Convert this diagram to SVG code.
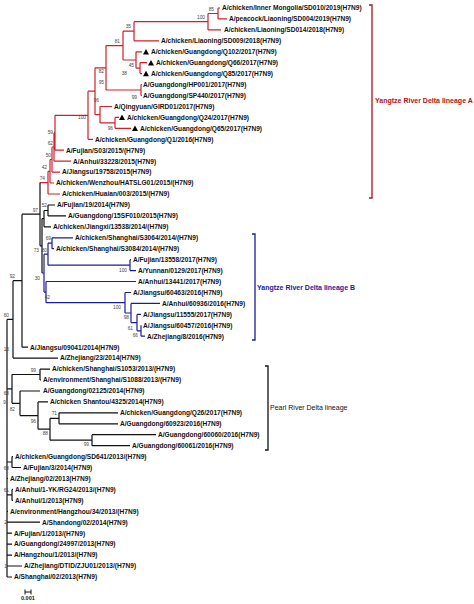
<svg xmlns="http://www.w3.org/2000/svg" width="474" height="604" viewBox="0 0 474 604">
<style>
.r{stroke:#d21f2b;stroke-width:1.2;fill:none}
.b{stroke:#1c1c9a;stroke-width:1.2;fill:none}
.k{stroke:#111;stroke-width:1.2;fill:none}
text{font-family:"Liberation Sans",Arial,sans-serif}
.lf{font-size:6.6px;font-weight:bold;fill:#111}
.bs{font-size:4.8px;fill:#444;text-anchor:end}
.tri{fill:#000}
</style>
<rect width="474" height="604" fill="#fff"/>
<g id="connectors">
<path class="r" d="M218,8V18.9M218,8H220M218,18.9H227M208,13.5V29.9M208,13.5H218M208,29.9H221M134,21.7V40.8M134,21.7H208M134,40.8H159M140,62.7V73.6M140,62.7H147M140,73.6H142M136,51.8V68.2M136,51.8H142M136,68.2H140M123,31.2V60M123,31.2H134M123,60H136M141,84.5V95.5M141,84.5H142M141,95.5H142M106,45.6V90M106,45.6H123M106,90H141M115,117.4V128.3M115,117.4H119M115,128.3H131M100,106.5V122.9M100,106.5H112M100,122.9H115M95,67.8V114.7M95,67.8H106M95,114.7H100M88,91.2V139.3M88,91.2H95M88,139.3H93M55,115.3V150.2M55,115.3H88M55,150.2H64M54,132.7V161.2M54,132.7H55M54,161.2H71M52,147V172.1M52,147H54M52,172.1H60M50,159.5V183M50,159.5H52M50,183H54M48,171.3V194M48,171.3H50M48,194H60M40,182.6H48"/>
<path class="k" d="M40,182.6V245.8M48,205V215.9M48,205H55M48,215.9H66M44,210.5V226.8M44,210.5H48M44,226.8H51M42,218.6V273M42,218.6H44M40,245.8H42M22,214.2V347.2M22,214.2H40M22,347.2H28M13,280.7V358.1M13,280.7H22M13,358.1H58M7,319.4V577M7,319.4H13M12,374.5V403.3M7,388.9H12M40,369.1V380M40,369.1H50M40,380H41M12,374.5H40M20,391V415.6M12,403.3H20M20,391H40M38,401.9V429.2M20,415.6H38M38,401.9H48M50,418.3V440.2M38,429.2H50M59,412.8V423.8M50,418.3H59M59,412.8H118M59,423.8H118M92,434.7V445.7M50,440.2H92M92,434.7H156M92,445.7H130M12,456.6V467.5M7,462H12M12,456.6H13M12,467.5H21M7,478.5H8M12,489.4V500.4M7,494.9H12M12,489.4H13M12,500.4H13M7,511.3H8M7,522.2H40M7,533.2H12M7,544.1H12M7,555.1H12M7,566H22M7,577H12"/>
<path class="b" d="M42,273H44M52,237.8V248.7M52,237.8H73M52,248.7H54M130,259.7V270.6M130,259.7H131M130,270.6H136M48,243.2V265.2M48,243.2H52M48,265.2H130M141,325.3V336.2M141,336.2H145M137,314.4V330.8M137,314.4H141M137,330.8H141M131,303.4V322.6M131,303.4H160M131,322.6H137M125,292.5V313M125,292.5H131M125,313H131M46,281.5V302.7M46,281.5H136M46,302.7H125M44,254.2V292.1M44,254.2H48M44,292.1H46"/>
<path d="M25,592H31M25,589.5V594.5M31,589.5V594.5" stroke="#111" stroke-width="1"/>
</g>
<g id="brackets">
<path d="M369,5H372V198H369" stroke="#b3121c" stroke-width="1.3" fill="none"/>
<text x="375" y="103" font-size="7" font-weight="bold" fill="#b3121c">Yangtze River Delta lineage A</text>
<path d="M252,234H255V340H252" stroke="#1c1c9a" stroke-width="1.3" fill="none"/>
<text x="257" y="289.5" font-size="7" font-weight="bold" fill="#1c1c9a">Yangtze River Delta lineage B</text>
<path d="M265,366H268V450H265" stroke="#111" stroke-width="1.3" fill="none"/>
<text x="270" y="409.5" font-size="7" fill="#111">Pearl River Delta lineage</text>
</g>
<g id="bootstrap">
<text class="bs" x="214" y="11">85</text>
<text class="bs" x="205" y="19">100</text>
<text class="bs" x="131" y="28">35</text>
<text class="bs" x="120" y="43">81</text>
<text class="bs" x="134" y="67">45</text>
<text class="bs" x="127" y="75">38</text>
<text class="bs" x="104" y="73">82</text>
<text class="bs" x="137" y="99">99</text>
<text class="bs" x="104" y="84">95</text>
<text class="bs" x="99" y="102">96</text>
<text class="bs" x="86" y="119">100</text>
<text class="bs" x="113" y="130">96</text>
<text class="bs" x="53" y="134">59</text>
<text class="bs" x="53" y="145">62</text>
<text class="bs" x="51" y="157">50</text>
<text class="bs" x="47" y="169">42</text>
<text class="bs" x="45" y="180">74</text>
<text class="bs" x="38" y="212">97</text>
<text class="bs" x="47" y="207">52</text>
<text class="bs" x="51" y="240">69</text>
<text class="bs" x="39" y="252">73</text>
<text class="bs" x="47" y="252">80</text>
<text class="bs" x="40" y="280">30</text>
<text class="bs" x="50" y="299">42</text>
<text class="bs" x="127" y="272">100</text>
<text class="bs" x="15" y="278">92</text>
<text class="bs" x="121" y="309">100</text>
<text class="bs" x="129" y="319">98</text>
<text class="bs" x="133" y="330">61</text>
<text class="bs" x="138" y="337">66</text>
<text class="bs" x="9" y="317">60</text>
<text class="bs" x="9" y="351">13</text>
<text class="bs" x="36" y="372">99</text>
<text class="bs" x="9" y="395">68</text>
<text class="bs" x="6" y="404">9</text>
<text class="bs" x="15" y="411">82</text>
<text class="bs" x="36" y="423">96</text>
<text class="bs" x="48" y="435">88</text>
<text class="bs" x="57" y="415">71</text>
<text class="bs" x="89" y="446">99</text>
<text class="bs" x="9" y="470">68</text>
<text class="bs" x="9" y="492">61</text>
<text class="bs" x="7" y="524">2</text>
<text class="bs" x="7" y="568">1</text>
</g>
<g id="markers">
<path class="tri" d="M143,54.5L146,49L149,54.5Z"/>
<path class="tri" d="M148,65.4L151,59.9L154,65.4Z"/>
<path class="tri" d="M143,76.3L146,70.8L149,76.3Z"/>
<path class="tri" d="M119,120.1L122,114.6L125,120.1Z"/>
<path class="tri" d="M132,131L135,125.5L138,131Z"/>
</g>
<g id="leaves" class="lf">
<text x="222" y="10.3">A/chicken/Inner Mongolia/SD010/2019(H7N9)</text>
<text x="229" y="21.2">A/peacock/Liaoning/SD004/2019(H7N9)</text>
<text x="224" y="32.2">A/chicken/Liaoning/SD014/2018(H7N9)</text>
<text x="161" y="43.1">A/chicken/Liaoning/SD009/2018(H7N9)</text>
<text x="151" y="54.1">A/chicken/Guangdong/Q102/2017(H7N9)</text>
<text x="156" y="65">A/chicken/Guangdong/Q66/2017(H7N9)</text>
<text x="151" y="75.9">A/chicken/Guangdong/Q85/2017(H7N9)</text>
<text x="143" y="86.8">A/Guangdong/HP001/2017(H7N9)</text>
<text x="143" y="97.8">A/Guangdong/SP440/2017(H7N9)</text>
<text x="114" y="108.8">A/Qingyuan/GIRD01/2017(H7N9)</text>
<text x="127" y="119.7">A/chicken/Guangdong/Q24/2017(H7N9)</text>
<text x="140" y="130.6">A/chicken/Guangdong/Q65/2017(H7N9)</text>
<text x="95" y="141.6">A/chicken/Guangdong/Q1/2016(H7N9)</text>
<text x="66" y="152.5">A/Fujian/S03/2015/(H7N9)</text>
<text x="73" y="163.5">A/Anhui/33228/2015(H7N9)</text>
<text x="62" y="174.4">A/Jiangsu/19758/2015(H7N9)</text>
<text x="56" y="185.3">A/chicken/Wenzhou/HATSLG01/2015/(H7N9)</text>
<text x="62" y="196.3">A/chicken/Huaian/003/2015/(H7N9)</text>
<text x="57" y="207.3">A/Fujian/19/2014(H7N9)</text>
<text x="68" y="218.2">A/Guangdong/15SF010/2015(H7N9)</text>
<text x="53" y="229.1">A/chicken/Jiangxi/13538/2014/(H7N9)</text>
<text x="75" y="240.1">A/chicken/Shanghai/S3064/2014/(H7N9)</text>
<text x="56" y="251">A/chicken/Shanghai/S3084/2014/(H7N9)</text>
<text x="133" y="262">A/Fujian/13558/2017(H7N9)</text>
<text x="138" y="272.9">A/Yunnan/0129/2017(H7N9)</text>
<text x="138" y="283.8">A/Anhui/13441/2017(H7N9)</text>
<text x="133" y="294.8">A/Jiangsu/60463/2016(H7N9)</text>
<text x="162" y="305.7">A/Anhui/60936/2016(H7N9)</text>
<text x="143" y="316.7">A/Jiangsu/11555/2017(H7N9)</text>
<text x="143" y="327.6">A/Jiangsu/60457/2016(H7N9)</text>
<text x="147" y="338.5">A/Zhejiang/8/2016(H7N9)</text>
<text x="30" y="349.5">A/Jiangsu/09041/2014(H7N9)</text>
<text x="60" y="360.4">A/Zhejiang/23/2014(H7N9)</text>
<text x="52" y="371.4">A/chicken/Shanghai/S1053/2013/(H7N9)</text>
<text x="43" y="382.3">A/environment/Shanghai/S1088/2013/(H7N9)</text>
<text x="43" y="393.3">A/Guangdong/02125/2014(H7N9)</text>
<text x="50" y="404.2">A/chicken Shantou/4325/2014(H7N9)</text>
<text x="120" y="415.1">A/chicken/Guangdong/Q26/2017(H7N9)</text>
<text x="120" y="426.1">A/Guangdong/60923/2016(H7N9)</text>
<text x="158" y="437">A/Guangdong/60060/2016(H7N9)</text>
<text x="132" y="448">A/Guangdong/60061/2016(H7N9)</text>
<text x="15" y="458.9">A/chicken/Guangdong/SD641/2013/(H7N9)</text>
<text x="23" y="469.8">A/Fujian/3/2014(H7N9)</text>
<text x="10" y="480.8">A/Zhejiang/02/2013(H7N9)</text>
<text x="15" y="491.7">A/Anhui/1-YK/RG24/2013/(H7N9)</text>
<text x="15" y="502.7">A/Anhui/1/2013(H7N9)</text>
<text x="10" y="513.6">A/environment/Hangzhou/34/2013/(H7N9)</text>
<text x="42" y="524.5">A/Shandong/02/2014(H7N9)</text>
<text x="14" y="535.5">A/Fujian/1/2013/(H7N9)</text>
<text x="14" y="546.4">A/Guangdong/24997/2013(H7N9)</text>
<text x="14" y="557.4">A/Hangzhou/1/2013/(H7N9)</text>
<text x="24" y="568.3">A/Zhejiang/DTID/ZJU01/2013/(H7N9)</text>
<text x="14" y="579.3">A/Shanghai/02/2013(H7N9)</text>
<text x="21" y="600" style="font-size:5.5px">0.001</text>
</g>
</svg>
